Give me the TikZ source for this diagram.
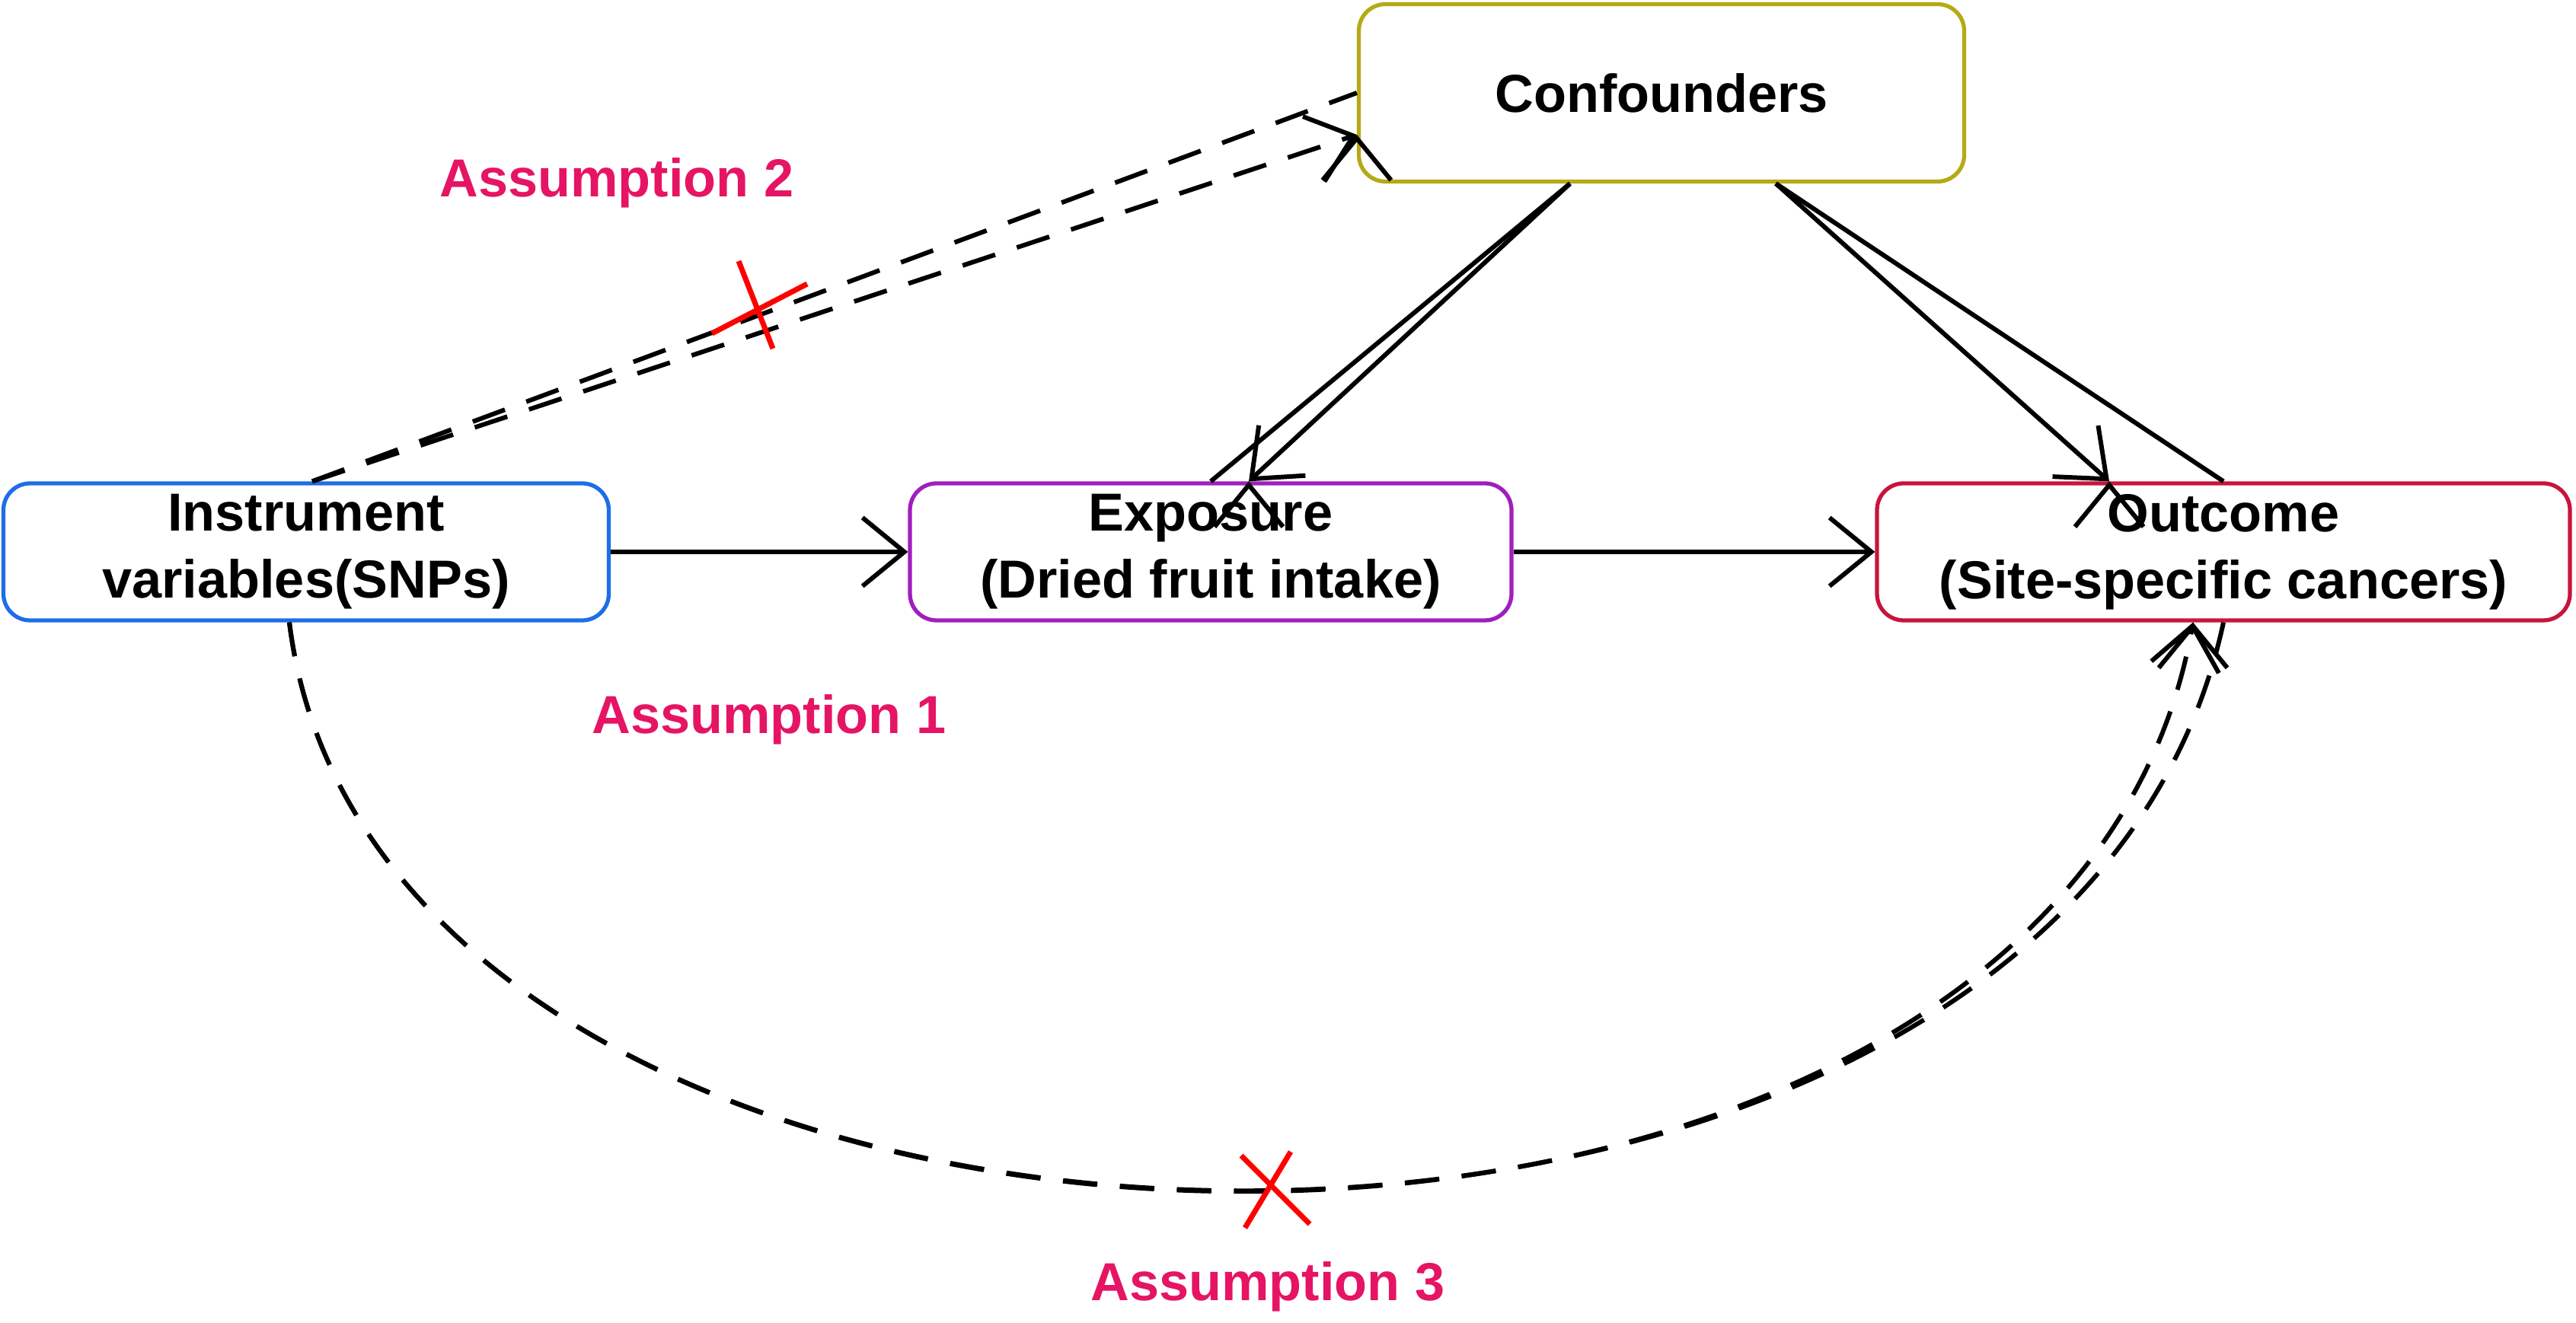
\documentclass[tikz,border=0pt]{standalone}
\usepackage{fontspec}
\setmainfont{Liberation Sans}
\usetikzlibrary{arrows.meta}
\definecolor{ivblue}{RGB}{30,110,230}
\definecolor{expurple}{RGB}{160,30,190}
\definecolor{outred}{RGB}{200,20,60}
\definecolor{cfolive}{RGB}{180,170,20}
\definecolor{aspink}{RGB}{230,20,100}
\begin{document}
\begin{tikzpicture}[>={Straight Barb[length=0.55cm,width=0.9cm,line width=1.7pt]},
  box/.style={draw,line width=1.5pt,rounded corners=0.35cm,align=center,font=\fontsize{20}{25}\selectfont\bfseries,inner sep=0pt},
  link/.style={->,line width=1.7pt},
  dlink/.style={link,dash pattern=on 0.45cm off 0.3cm},
  assum/.style={text=aspink,font=\fontsize{20}{24}\selectfont\bfseries},
  cross/.style={red,line width=2pt}]
\useasboundingbox (0,0) rectangle (33.83,17.38);
\node[box,draw=ivblue,minimum width=7.95cm,minimum height=1.8cm] (iv) at (4.02,10.13) {Instrument\\variables(SNPs)};
\node[box,draw=expurple,minimum width=7.9cm,minimum height=1.8cm] (exp) at (15.9,10.13) {Exposure\\(Dried fruit intake)};
\node[box,draw=outred,minimum width=9.1cm,minimum height=1.8cm] (out) at (29.2,10.13) {Outcome\\(Site-specific cancers)};
\node[box,draw=cfolive,minimum width=7.95cm,minimum height=2.33cm] (conf) at (21.82,16.16) {Confounders};
\draw[link] (iv) -- (exp);
\draw[link] (exp) -- (out);
\draw[link] (conf.south west)++(2.8,0) coordinate (c1) -- (exp.north)++(0.5,0) coordinate (e1);
\draw[link] (c1) -- (e1);
\draw[link] (conf.south east)++(-2.5,0) coordinate (c2) -- (out.north)++(-1.5,0) coordinate (o1);
\draw[link] (c2) -- (o1);
\draw[dlink] (iv.north)++(0.08,0) coordinate (i1) -- (conf.west)++(0,-0.55) coordinate (cw);
\draw[dlink] (i1) -- (cw);
\draw[dlink] (iv.south)++(-0.22,0) coordinate (i2) .. controls (5,-0.5) and (27,-1) .. (out.south)++(-0.4,0) coordinate (o2);
\draw[dlink] (i2) .. controls (5,-0.5) and (27,-1) .. (o2);
% red crosses
\draw[cross] (9.7,13.95) -- (10.15,12.8);
\draw[cross] (9.35,13.0) -- (10.6,13.65);
\draw[cross] (16.3,2.2) -- (17.2,1.3);
\draw[cross] (16.35,1.25) -- (16.95,2.25);
\node[assum] (a1) at (10.1,7.93) {Assumption 1};
\node[assum] (a2) at (8.1,14.98) {Assumption 2};
\node[assum] (a3) at (16.65,0.48) {Assumption 3};
\end{tikzpicture}
\end{document}
